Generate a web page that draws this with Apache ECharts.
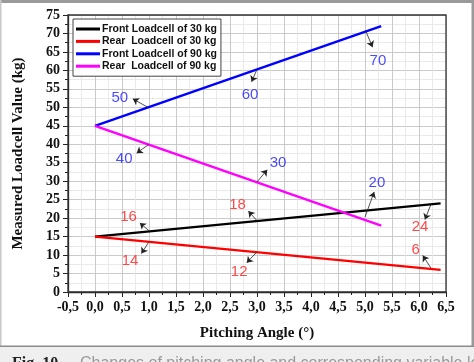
<!DOCTYPE html>
<html><head><meta charset="utf-8">
<script src="https://cdn.jsdelivr.net/npm/echarts@6/dist/echarts.min.js"></script>
<style>html,body{margin:0;padding:0;background:#fff}#c{width:474px;height:362px}</style>
</head><body><div id="c"></div>
<script>
// ---- data ----
const seriesNames = ['Front Loadcell of 30 kg', 'Rear  Loadcell of 30 kg', 'Front Loadcell of 90 kg', 'Rear  Loadcell of 90 kg'];
const front30 = [[0, 15], [6.4, 24]];
const rear30  = [[0, 15], [6.4, 6]];
const front90 = [[0, 45], [5.3, 72]];
const rear90  = [[0, 45], [5.3, 18]];
const xTicks = [-0.5, 6.5, 0.5];   // min, max, step
const yTicks = [0, 75, 5];
// annotations: text, text position, arrow start (on line), arrow head
const annoText  = ['50', '60', '70', '40', '30', '20', '16', '18', '24', '14', '12', '6'];
const annoGroup = [1, 1, 1, 1, 1, 1, 0, 0, 0, 0, 0, 0]; // 1 = 90 kg, 0 = 30 kg
const annoTextX = [0.46, 2.87, 5.24, 0.54, 3.39, 5.22, 0.62, 2.64, 6.02, 0.65, 2.67, 5.94];
const annoTextY = [52.7, 53.3, 62.7, 36.1, 34.9, 29.5, 20.3, 23.5, 17.6, 8.4, 5.4, 11.3];
const annoFromX = [0.98, 3.0, 5.01, 0.99, 3.0, 5.0, 1.0, 3.0, 6.22, 0.99, 3.0, 6.22];
const annoFromY = [50.0, 60.3, 70.8, 39.9, 29.8, 20.3, 16.6, 19.3, 23.7, 13.4, 10.9, 6.5];
const annoToX   = [0.70, 2.90, 5.14, 0.77, 3.19, 5.17, 0.83, 2.84, 6.11, 0.86, 2.81, 6.07];
const annoToY   = [52.3, 56.9, 66.3, 37.6, 33.1, 27.1, 18.7, 21.9, 19.6, 10.4, 7.9, 9.9];

// ---- styles ----
const lineColors = ['#000000', '#ff0000', '#0000ff', '#ff00ff'];
const annoColors = ['#ff1a1a', '#1a1aff'];
const serif = '"Liberation Serif","Times New Roman",serif';
const sans = '"Liberation Sans",Arial,sans-serif';
const fmt = v => v.toFixed(1).replace('.', ',');

const chart = echarts.init(document.getElementById('c'), null, {renderer: 'canvas'});
const lineData = [front30, rear30, front90, rear90];

const series = lineData.map((d, i) => ({
  name: seriesNames[i], type: 'line', data: d, symbol: 'none',
  lineStyle: {color: lineColors[i], width: 2.4}, itemStyle: {color: lineColors[i]},
  z: 3, silent: true
}));

series.push({
  type: 'line', data: [], silent: true,
  markLine: {
    silent: true, symbol: ['none', 'arrow'], symbolSize: 6,
    label: {show: false},
    lineStyle: {color: '#222', width: 0.8, type: 'solid'},
    itemStyle: {color: '#222'},
    emphasis: {disabled: true},
    data: annoText.map((t, i) => [{coord: [annoFromX[i], annoFromY[i]]}, {coord: [annoToX[i], annoToY[i]]}])
  }
});

series.push({
  type: 'scatter', symbolSize: 0, silent: true, z: 5,
  data: annoText.map((t, i) => ({
    value: [annoTextX[i], annoTextY[i]], name: t,
    label: {color: annoColors[annoGroup[i]]}
  })),
  label: {show: true, position: 'inside', formatter: p => p.name,
          fontFamily: sans, fontSize: 15}
});

chart.setOption({
  animation: false,
  backgroundColor: '#ffffff',
  grid: {left: 68, right: 28, top: 15, bottom: 70, containLabel: false},
  legend: {
    data: seriesNames, orient: 'vertical', left: 73, top: 19,
    icon: 'rect', itemWidth: 24, itemHeight: 3, itemGap: 0.4,
    backgroundColor: '#fff', borderColor: '#444', borderWidth: 1,
    padding: [4, 4, 4, 3],
    textStyle: {fontFamily: sans, fontWeight: 'bold', fontSize: 10.5, color: '#111', lineHeight: 12, padding: [0, 0, 0, -3]},
    selectedMode: false
  },
  xAxis: {
    type: 'value', min: xTicks[0], max: xTicks[1], interval: xTicks[2],
    name: 'Pitching Angle (°)', nameLocation: 'middle', nameGap: 34,
    nameTextStyle: {fontFamily: serif, fontWeight: 'bold', fontSize: 15, color: '#111'},
    axisLine: {show: true, onZero: false, lineStyle: {color: '#222', width: 1.3}},
    axisTick: {show: true, length: 5, lineStyle: {color: '#222'}},
    minorTick: {show: true, splitNumber: 2, length: 3, lineStyle: {color: '#222'}},
    axisLabel: {formatter: fmt, margin: 8, fontFamily: serif, fontWeight: 'bold', fontSize: 14, color: '#111'},
    splitLine: {show: true, lineStyle: {color: '#c4c4c4', width: 0.9}},
    minorSplitLine: {show: true, lineStyle: {color: '#e4e4e4', width: 0.8}}
  },
  yAxis: {
    type: 'value', min: yTicks[0], max: yTicks[1], interval: yTicks[2],
    name: 'Measured Loadcell Value (kg)', nameLocation: 'middle', nameGap: 42,
    nameTextStyle: {fontFamily: serif, fontWeight: 'bold', fontSize: 15, color: '#111'},
    axisLine: {show: true, onZero: false, lineStyle: {color: '#222', width: 1.3}},
    axisTick: {show: true, length: 5, lineStyle: {color: '#222'}},
    minorTick: {show: true, splitNumber: 2, length: 3, lineStyle: {color: '#222'}},
    axisLabel: {margin: 8, fontFamily: serif, fontWeight: 'bold', fontSize: 14, color: '#111'},
    splitLine: {show: true, lineStyle: {color: '#c4c4c4', width: 0.9}},
    minorSplitLine: {show: true, lineStyle: {color: '#e4e4e4', width: 0.8}}
  },
  graphic: [
    {type: 'rect', shape: {x: 68, y: 15, width: 378, height: 277}, style: {fill: 'none', stroke: '#333', lineWidth: 1.3}, silent: true, z: 10},
    {type: 'rect', shape: {x: 0, y: 0, width: 474, height: 3}, style: {fill: '#9a9a9a'}, silent: true},
    {type: 'rect', shape: {x: 471.5, y: 0, width: 2.5, height: 346}, style: {fill: '#9a9a9a'}, silent: true},
    {type: 'rect', shape: {x: 0, y: 0, width: 1.5, height: 362}, style: {fill: '#c8c8c8'}, silent: true},
    {type: 'rect', shape: {x: 0, y: 347, width: 474, height: 15}, style: {fill: '#efefef'}, silent: true},
    {type: 'rect', shape: {x: 0, y: 345.5, width: 474, height: 1.5}, style: {fill: '#8c8c8c'}, silent: true},
    {type: 'text', x: 12, y: 356, style: {text: 'Fig. 10', fontFamily: serif, fontWeight: 'bold', fontSize: 16, fill: '#222'}, silent: true},
    {type: 'text', x: 80, y: 356, style: {text: 'Changes of pitching angle and corresponding variable load', fontFamily: sans, fontSize: 16, fill: '#999'}, silent: true}
  ],
  series: series
});
</script></body></html>
